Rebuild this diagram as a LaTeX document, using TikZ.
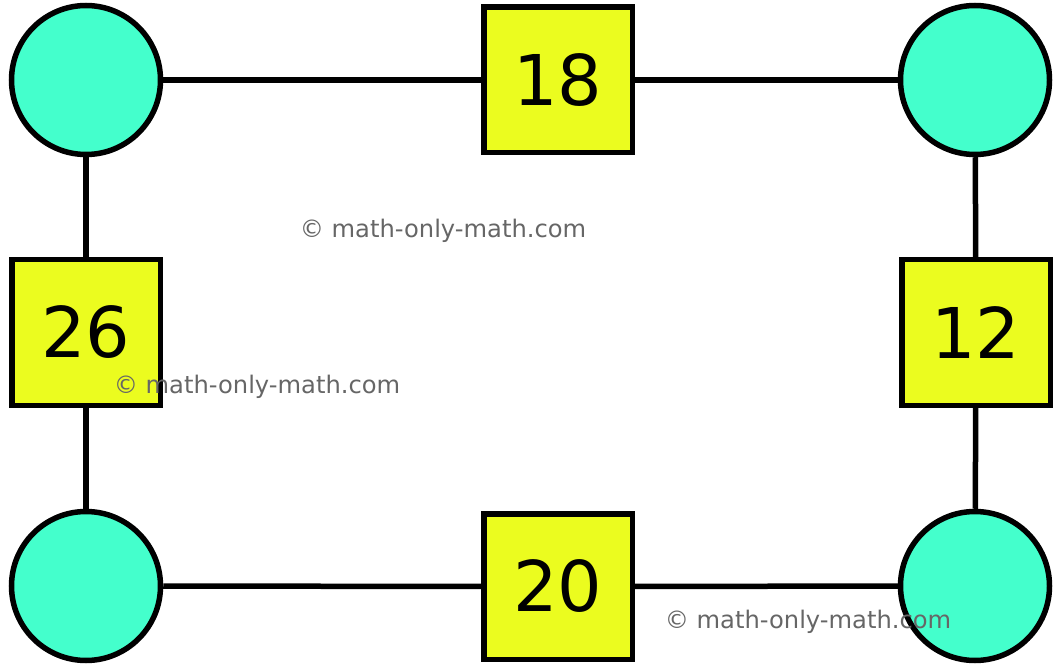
\documentclass[tikz,border=0pt]{standalone}
\usepackage{fontspec}
\setmainfont{DejaVu Sans}
\definecolor{aqua}{RGB}{68,255,204}
\definecolor{lemon}{RGB}{235,252,31}
\definecolor{stampgray}{RGB}{102,102,102}

\begin{document}
\begin{tikzpicture}[x=1pt,y=-1pt,line width=5.5pt,
                corner node/.style={circle,draw,fill=aqua,minimum size=149pt,inner sep=0pt},
                sum node/.style={rectangle,draw,fill=lemon,minimum width=148.5pt,minimum height=145.5pt,
                  inner sep=0pt,font=\fontsize{70}{70}\selectfont},
                stamp/.style={text=stampgray,font=\fontsize{24.2}{24.2}\selectfont}]

        \useasboundingbox (0,0) rectangle (1058,668);

        \node[corner node] (tl) at (86,80) {};
        \node[corner node] (tr) at (975,80) {};
        \node[corner node] (bl) at (86,586) {};
        \node[corner node] (br) at (975,586) {};

        \node[sum node] (top) at (558,80) {18};
        \node[sum node] (left) at (86,332.5) {26};
        \node[sum node] (right) at (976,332.5) {12};
        \node[sum node] (bottom) at (558,586.5) {20};

          \path
            (tl) edge (top)
                 edge (left)
            (tr) edge (top)
                 edge (right)
            (bl) edge (bottom)
                 edge (left)
            (br) edge (bottom)
                 edge (right);

        \node[stamp] (m1) at (443,231) {© math-only-math.com};
        \node[stamp] (m2) at (257,387) {© math-only-math.com};
        \node[stamp] (m3) at (808,622) {© math-only-math.com};

\end{tikzpicture}
\end{document}
